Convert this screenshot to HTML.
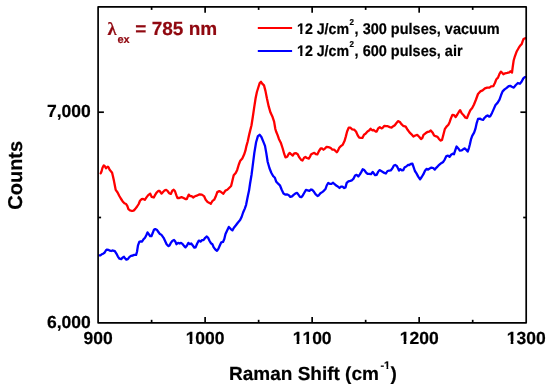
<!DOCTYPE html>
<html><head><meta charset="utf-8"><title>Raman spectra</title>
<style>
html,body{margin:0;padding:0;background:#fff;}
body{width:550px;height:391px;overflow:hidden;}
svg{display:block;}
text{font-family:"Liberation Sans",Arial,sans-serif;font-weight:bold;text-rendering:geometricPrecision;font-kerning:none;stroke:currentColor;stroke-width:0.2px;}
</style></head><body>
<svg width="550" height="391" viewBox="0 0 550 391">
<rect width="550" height="391" fill="#fff"/>
<polyline fill="none" stroke="#ff0000" stroke-width="2.3" stroke-linejoin="round" stroke-linecap="round" points="100.7,173.4 101.5,171.5 102.5,167.8 103.8,165.4 104.8,166.2 106.0,168.3 107.0,167.2 107.9,166.7 108.8,167.8 109.5,169.6 111.1,171.5 112.1,172.8 113.0,176.6 114.0,181.1 114.8,185.2 115.7,189.9 117.6,192.5 119.2,195.7 120.8,198.5 122.7,201.4 124.4,203.3 126.1,204.0 127.4,206.2 128.4,209.1 130.0,210.4 132.0,211.0 133.6,210.6 135.1,209.1 137.1,206.5 138.7,204.0 140.0,200.8 141.5,199.2 143.1,198.9 144.8,199.8 146.3,197.6 148.0,195.4 150.2,193.6 151.6,196.8 153.8,197.5 155.3,194.6 156.7,192.5 158.2,191.0 159.6,191.0 161.5,193.6 163.3,191.7 164.7,190.3 166.2,189.8 167.6,191.0 169.1,193.2 170.8,193.9 172.3,190.7 173.7,189.8 174.9,191.0 176.4,195.4 177.5,198.0 179.3,198.0 181.5,197.1 183.6,198.0 185.4,199.0 186.8,199.0 188.7,194.6 190.2,196.1 191.6,196.1 193.1,197.5 194.5,196.5 196.7,195.7 199.6,194.3 201.8,194.6 204.0,196.1 205.7,199.7 207.6,201.9 209.5,202.9 210.8,203.8 212.3,201.2 214.2,199.7 215.6,196.8 217.3,192.1 219.3,191.1 221.1,192.1 223.4,193.7 225.4,190.6 227.3,189.8 229.6,187.5 231.1,186.0 232.2,181.4 233.7,175.3 235.7,173.0 237.2,169.9 238.8,164.5 240.3,160.7 242.3,158.4 244.1,154.6 245.4,150.7 246.4,146.1 247.7,141.5 249.3,134.1 251.5,125.2 252.9,116.2 254.2,107.3 255.6,98.3 256.9,92.0 258.3,87.5 259.7,83.1 261.0,81.8 262.2,83.6 264.0,85.4 265.5,91.1 266.9,98.3 268.7,106.4 270.5,112.6 272.6,117.1 274.1,121.6 275.3,128.8 276.1,131.5 277.6,135.1 278.9,138.9 280.8,142.7 282.7,148.5 284.3,154.2 285.5,157.4 287.2,156.7 288.5,154.2 289.7,152.9 291.0,154.2 292.7,155.5 294.2,153.5 296.1,153.2 297.7,154.2 299.3,157.4 301.2,159.9 302.5,160.5 304.1,157.7 305.4,157.0 306.9,158.0 308.8,158.6 310.1,156.7 311.0,154.4 312.6,153.5 314.3,152.9 315.8,154.2 317.3,154.4 319.0,151.0 320.7,148.5 322.2,148.5 323.5,149.7 324.7,148.8 326.6,146.9 328.5,147.2 330.5,147.8 332.4,149.7 334.3,149.7 335.5,151.0 336.8,152.3 338.1,150.4 339.1,148.1 340.7,146.2 342.6,144.9 344.5,141.1 345.8,136.6 347.1,131.5 348.7,127.7 350.3,127.7 352.2,129.3 354.1,129.6 356.0,131.5 357.7,135.4 359.2,137.7 361.1,137.9 362.4,137.9 364.0,134.7 365.5,133.8 367.5,131.5 369.4,130.3 370.6,128.7 372.2,130.3 373.8,130.0 375.5,131.5 376.7,131.5 378.0,128.7 379.8,127.1 381.5,128.4 382.7,127.7 384.4,125.8 385.9,126.2 387.8,126.2 389.7,127.1 391.6,127.5 393.3,126.2 394.8,125.2 396.3,123.3 398.0,121.1 399.9,122.0 401.2,123.9 403.1,125.8 405.7,126.6 407.6,129.8 409.5,132.4 411.5,134.3 413.4,136.6 415.3,135.5 417.2,134.9 419.1,136.8 421.0,139.1 422.3,138.1 423.5,134.9 425.5,133.3 427.4,132.0 429.0,131.7 430.8,130.5 432.5,132.4 434.1,135.5 435.6,136.2 437.5,136.8 438.8,138.7 440.5,140.6 442.0,140.0 443.5,134.3 444.8,129.2 446.5,126.6 448.4,124.7 449.6,122.2 450.9,118.4 452.4,114.9 454.1,115.2 455.6,117.1 457.3,114.5 458.8,112.0 460.1,110.1 461.7,113.3 463.6,115.2 465.5,117.7 467.0,118.0 468.3,114.8 470.3,110.3 472.2,108.0 474.0,104.5 476.0,99.5 478.0,94.0 480.3,91.4 482.6,90.4 484.9,88.4 487.2,87.6 489.5,87.6 491.1,86.4 493.4,86.1 494.9,83.0 496.4,79.2 498.0,77.6 499.5,73.8 500.9,71.6 502.1,72.8 503.4,74.2 505.1,73.3 507.3,72.9 509.2,72.3 510.4,71.3 512.0,72.5 512.7,67.2 513.6,60.8 514.9,56.3 516.8,51.2 518.8,47.7 520.4,45.4 521.7,44.2 522.6,41.4 523.5,39.1 524.8,38.4 525.6,38.2"/>
<polyline fill="none" stroke="#0000ff" stroke-width="2.3" stroke-linejoin="round" stroke-linecap="round" points="99.1,255.3 100.4,255.3 101.7,254.3 103.2,253.7 104.7,252.5 106.0,250.2 107.0,249.6 108.3,249.8 109.9,250.7 111.1,251.0 112.4,250.5 114.0,250.8 114.8,251.1 116.4,253.6 117.9,256.6 119.5,258.7 121.2,259.1 122.7,257.5 124.0,256.8 125.0,258.3 126.3,259.6 127.8,259.1 129.3,257.1 131.0,255.8 132.9,255.5 134.2,254.9 136.1,254.9 137.0,251.7 138.0,245.4 139.3,241.9 140.8,241.3 142.1,241.5 143.3,239.6 145.0,237.7 146.3,235.2 147.5,232.4 148.8,234.2 150.1,236.2 151.4,236.2 152.6,233.3 153.9,229.8 155.2,229.1 157.1,230.1 158.4,232.0 159.6,233.7 161.5,234.9 163.6,237.8 165.1,241.0 166.6,244.2 168.3,246.1 169.5,245.5 170.8,242.9 172.5,240.7 174.0,240.0 175.3,241.6 176.5,244.2 178.1,242.9 179.7,243.5 181.0,242.9 182.7,244.2 184.2,246.1 185.5,247.4 187.0,245.5 188.3,242.9 189.9,244.2 191.2,243.5 192.8,245.5 194.4,247.7 195.6,247.4 197.2,243.5 198.8,240.6 200.5,241.6 202.0,240.1 203.5,240.1 205.2,237.8 206.8,236.5 208.1,237.8 209.6,241.0 210.9,243.2 212.4,244.2 213.7,247.4 215.4,249.5 217.0,250.8 218.5,248.6 219.8,245.5 221.3,242.3 223.0,241.9 224.3,239.1 225.5,234.0 226.9,231.0 228.8,226.9 230.8,229.1 232.4,230.4 233.9,227.8 235.9,225.3 237.8,222.7 240.1,220.1 241.6,217.0 243.1,212.5 244.8,208.6 246.1,204.8 247.0,200.3 248.0,195.2 249.0,190.8 250.0,184.0 251.5,175.0 252.5,167.4 254.3,153.1 256.1,142.3 257.9,136.1 259.6,134.8 261.4,137.0 263.2,141.4 265.0,145.9 266.3,153.1 267.7,162.0 269.5,168.3 271.3,172.8 273.1,176.0 274.9,177.8 276.3,181.8 278.1,183.6 279.9,185.3 281.7,189.8 283.5,193.4 285.6,194.7 286.9,194.4 288.6,195.0 290.3,196.9 292.0,196.3 293.9,194.6 295.8,193.3 297.1,192.8 298.4,194.6 300.0,196.9 301.3,197.2 302.8,195.4 304.3,192.8 306.0,189.9 307.7,190.3 309.4,190.8 311.1,189.5 312.4,189.9 314.0,191.8 315.5,194.1 317.5,196.0 318.7,195.4 320.4,193.3 322.2,192.1 323.8,190.8 325.5,189.0 326.7,185.5 328.3,182.9 329.8,183.9 331.5,183.9 333.1,182.7 334.6,184.2 336.2,185.5 337.8,186.5 339.5,188.0 341.0,186.7 342.5,186.7 344.2,188.0 345.5,187.4 346.7,182.9 348.4,181.4 350.2,180.9 351.9,180.3 353.6,178.6 355.1,175.5 356.6,174.8 358.3,176.5 359.9,174.4 361.5,171.6 362.7,169.3 364.3,170.1 365.9,172.3 367.6,173.9 369.1,173.9 371.0,174.2 372.7,171.9 373.9,173.5 375.2,175.2 376.7,174.8 378.3,171.6 379.5,170.1 381.2,171.0 382.8,171.9 384.4,172.9 385.9,173.5 387.5,171.0 389.2,170.6 390.7,170.4 392.3,168.5 393.9,165.5 395.2,165.0 396.8,165.9 398.1,168.5 399.0,170.6 400.3,169.1 401.9,170.4 403.2,170.1 404.7,167.2 406.3,166.5 407.9,165.0 409.2,165.0 410.8,164.0 412.4,163.7 413.6,167.2 414.9,171.0 416.5,173.4 418.2,176.6 420.1,179.2 421.7,177.0 423.3,174.4 425.0,170.8 426.5,168.9 428.1,169.6 429.7,168.5 431.4,167.6 433.2,168.0 434.8,169.6 436.5,167.6 438.3,165.7 440.0,164.2 441.6,162.9 443.2,161.9 444.7,159.6 446.4,156.1 448.0,155.7 449.6,156.8 451.1,154.8 452.8,153.6 454.0,154.2 455.3,150.1 456.6,146.5 458.3,148.4 459.8,150.6 461.7,150.4 463.4,149.1 464.9,148.4 466.4,150.1 467.7,151.6 469.0,147.8 469.9,144.2 470.9,139.7 472.2,135.9 474.1,132.7 475.4,128.9 476.7,123.1 478.0,119.0 479.9,118.6 481.4,119.5 483.1,119.9 484.4,118.0 486.3,116.1 487.6,115.4 489.1,116.7 490.4,116.1 492.0,112.9 493.7,109.1 495.5,105.0 497.5,102.9 499.5,99.6 501.0,95.3 502.6,91.4 504.6,89.4 506.7,87.9 508.7,86.1 510.2,85.8 511.8,86.8 513.8,87.6 515.6,85.3 517.9,83.0 519.9,83.8 521.7,81.5 523.3,78.4 524.8,77.2 525.6,77.0"/>
<g stroke="#000" stroke-width="1.7" fill="none" stroke-linejoin="round">
<rect x="98.10" y="6.90" width="428.10" height="315.90"/>
<line x1="151.61" y1="322.80" x2="151.61" y2="319.80"/>
<line x1="151.61" y1="6.90" x2="151.61" y2="9.90"/>
<line x1="205.12" y1="322.80" x2="205.12" y2="317.00"/>
<line x1="205.12" y1="6.90" x2="205.12" y2="12.70"/>
<line x1="258.64" y1="322.80" x2="258.64" y2="319.80"/>
<line x1="258.64" y1="6.90" x2="258.64" y2="9.90"/>
<line x1="312.15" y1="322.80" x2="312.15" y2="317.00"/>
<line x1="312.15" y1="6.90" x2="312.15" y2="12.70"/>
<line x1="365.66" y1="322.80" x2="365.66" y2="319.80"/>
<line x1="365.66" y1="6.90" x2="365.66" y2="9.90"/>
<line x1="419.18" y1="322.80" x2="419.18" y2="317.00"/>
<line x1="419.18" y1="6.90" x2="419.18" y2="12.70"/>
<line x1="472.69" y1="322.80" x2="472.69" y2="319.80"/>
<line x1="472.69" y1="6.90" x2="472.69" y2="9.90"/>
<line x1="98.10" y1="217.50" x2="101.10" y2="217.50"/>
<line x1="526.20" y1="217.50" x2="523.20" y2="217.50"/>
<line x1="98.10" y1="112.20" x2="103.90" y2="112.20"/>
<line x1="526.20" y1="112.20" x2="520.40" y2="112.20"/>
</g>
<g font-size="17.5" fill="#000" color="#000">
<text x="98.10" y="343.6" text-anchor="middle">900</text>
<text x="205.12" y="343.6" text-anchor="middle">1000</text>
<text x="312.15" y="343.6" text-anchor="middle">1100</text>
<text x="419.18" y="343.6" text-anchor="middle">1200</text>
<text x="526.20" y="343.6" text-anchor="middle">1300</text>
<text x="90.8" y="116.8" text-anchor="end">7,000</text>
<text x="90.8" y="327.7" text-anchor="end">6,000</text>
</g>
<text font-size="20" fill="#000" color="#000" transform="translate(21.8,175.3) rotate(-90)" text-anchor="middle">Counts</text>
<text font-size="19" fill="#000" color="#000" x="229" y="379.6">Raman Shift (cm<tspan font-size="11" dy="-11" dx="1.5">-1</tspan><tspan dy="11" dx="0.3">)</tspan></text>
<g fill="#900810" color="#900810">
<text x="107.4" y="35.1" font-size="18.4" style="font-family:'Liberation Serif',serif">λ</text>
<text x="117.4" y="42.5" font-size="11">ex</text>
<text x="135.2" y="34.8" font-size="19">=</text>
<text x="151.7" y="34.7" font-size="19">785 nm</text>
</g>
<line x1="257.8" y1="28.1" x2="292.1" y2="28.1" stroke="#ff0000" stroke-width="2"/>
<line x1="257.8" y1="50.9" x2="292.1" y2="50.9" stroke="#0000ff" stroke-width="2"/>
<g font-size="14.5" fill="#000" color="#000">
<g transform="translate(0,33.6) scale(1,1.07) translate(0,-33.6)">
<text x="297.0" y="33.6" font-size="14.2">12 J/cm</text>
<text x="349.6" y="25.75" font-size="8">2</text>
<text x="354.6" y="33.6">, 300 pulses, vacuum</text>
</g>
<g transform="translate(0,55.8) scale(1,1.07) translate(0,-55.8)">
<text x="297.0" y="55.8" font-size="14.2">12 J/cm</text>
<text x="349.6" y="47.95" font-size="8">2</text>
<text x="354.6" y="55.8">, 600 pulses, air</text>
</g>
</g>
<g fill="#fff"><rect x="185.85" y="341.01" width="3.76" height="3.59"/><rect x="192.26" y="341.01" width="3.14" height="3.59"/><rect x="292.88" y="341.01" width="3.76" height="3.59"/><rect x="299.29" y="341.01" width="3.14" height="3.59"/><rect x="302.60" y="341.01" width="3.76" height="3.59"/><rect x="309.01" y="341.01" width="3.14" height="3.59"/><rect x="399.91" y="341.01" width="3.76" height="3.59"/><rect x="406.32" y="341.01" width="3.14" height="3.59"/><rect x="506.93" y="341.01" width="3.76" height="3.59"/><rect x="513.34" y="341.01" width="3.14" height="3.59"/></g><g fill="#fff"><rect x="383.87" y="366.68" width="2.65" height="2.92"/><rect x="388.27" y="366.68" width="2.11" height="2.92"/></g><g fill="#fff" transform="translate(0,33.6) scale(1,1.07) translate(0,-33.6)"><rect x="296.99" y="31.35" width="3.20" height="3.25"/><rect x="302.38" y="31.35" width="2.62" height="3.25"/></g><g fill="#fff" transform="translate(0,55.8) scale(1,1.07) translate(0,-55.8)"><rect x="296.99" y="53.55" width="3.20" height="3.25"/><rect x="302.38" y="53.55" width="2.62" height="3.25"/></g>
</svg>
</body></html>
